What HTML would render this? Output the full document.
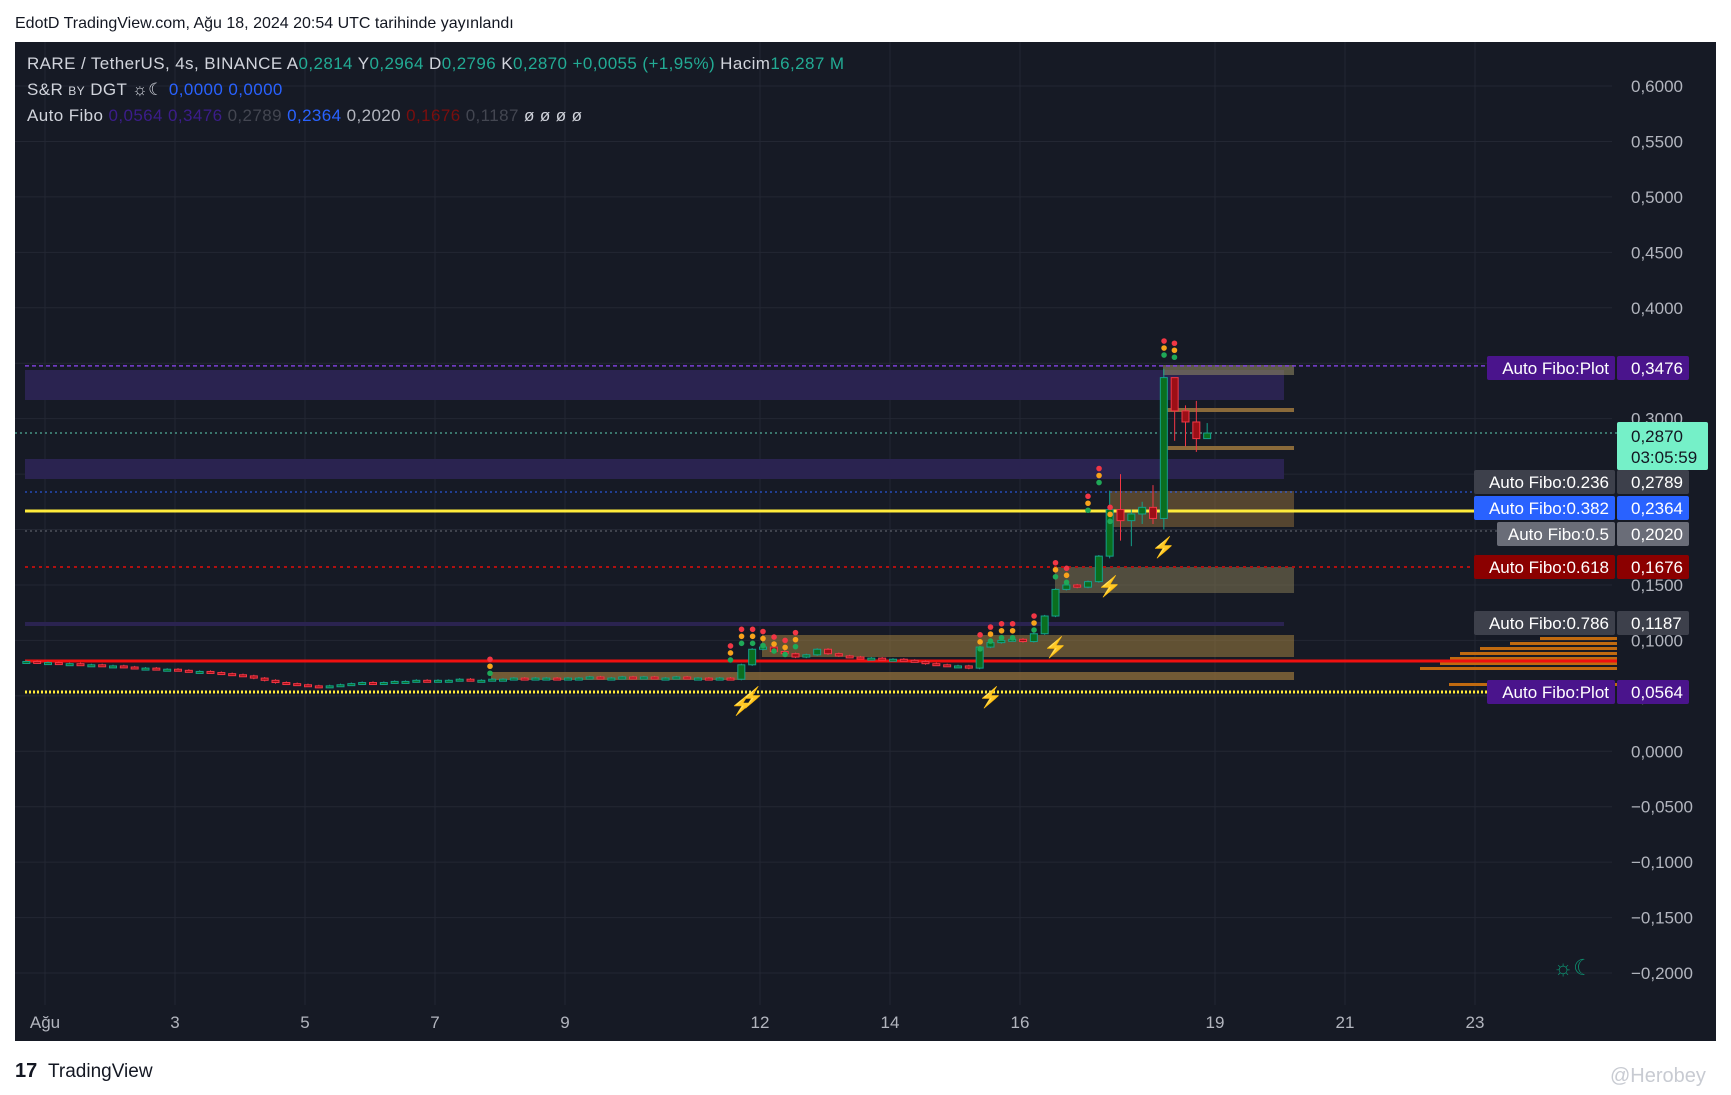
<!DOCTYPE html>
<html><head><meta charset="utf-8"><style>
body{margin:0;background:#fff;width:1731px;height:1095px;overflow:hidden;font-family:"Liberation Sans",sans-serif}
svg{display:block}
</style></head><body>
<svg id="c" width="1731" height="1095" xmlns="http://www.w3.org/2000/svg">
<text x="15" y="28" font-size="16" fill="#131722">EdotD TradingView.com, Ağu 18, 2024 20:54 UTC tarihinde yayınlandı</text>
<rect x="15" y="42" width="1701" height="999" fill="#161a25"/>
<g id="grid"></g><g id="deco"></g><g id="candles"></g><g id="labels"></g>
<g font-size="17" letter-spacing="0.4">
<text x="27" y="69" fill="#d1d4dc">RARE / TetherUS, 4s, BINANCE  <tspan fill="#d1d4dc">A</tspan><tspan fill="#22ab94">0,2814</tspan>  <tspan fill="#d1d4dc">Y</tspan><tspan fill="#22ab94">0,2964</tspan>  <tspan fill="#d1d4dc">D</tspan><tspan fill="#22ab94">0,2796</tspan>  <tspan fill="#d1d4dc">K</tspan><tspan fill="#22ab94">0,2870</tspan>  <tspan fill="#22ab94">+0,0055 (+1,95%)</tspan>  <tspan fill="#d1d4dc">Hacim</tspan><tspan fill="#22ab94">16,287 M</tspan></text>
<text x="27" y="95" fill="#d1d4dc">S&amp;R <tspan font-size="12">BY</tspan> DGT ☼☾  <tspan fill="#2962ff">0,0000  0,0000</tspan></text>
<text x="27" y="121" fill="#d1d4dc">Auto Fibo  <tspan fill="#3b1d8a">0,0564</tspan>  <tspan fill="#3b1d8a">0,3476</tspan>  <tspan fill="#434651">0,2789</tspan>  <tspan fill="#2962ff">0,2364</tspan>  <tspan fill="#b2b5be">0,2020</tspan>  <tspan fill="#7a0e0e">0,1676</tspan>  <tspan fill="#434651">0,1187</tspan>  <tspan fill="#d1d4dc">ø  ø  ø  ø</tspan></text>
</g>
<text x="1553" y="975" font-size="22" fill="#0d8f6f">☼☾</text>
<text x="15" y="1077" font-size="20" font-weight="bold" fill="#131722">17</text>
<text x="48" y="1077" font-size="19" fill="#131722">TradingView</text>
<text x="1610" y="1082" font-size="20" fill="#c8cbd2">@Herobey</text>
</svg>
<script>
const priceTicks=[0.6,0.55,0.5,0.45,0.4,0.35,0.3,0.25,0.2,0.15,0.1,0.05,0,-0.05,-0.1,-0.15,-0.2];
const dayTicks=[1,3,5,7,9,12,14,16,19,21,23];
const dayLabels=["Ağu","3","5","7","9","12","14","16","19","21","23"];
const candleStart=0.5;
const closes=[0.081,0.081,0.080,0.080,0.079,0.079,0.078,0.078,0.077,0.077,0.076,0.075,0.075,0.074,0.074,0.073,0.072,0.072,0.071,0.070,0.069,0.068,0.066,0.064,0.062,0.061,
0.060,0.059,0.058,0.059,0.060,0.061,0.062,0.061,0.062,0.063,0.063,0.064,0.063,0.064,0.064,0.065,0.064,0.064,0.065,
0.065,0.066,0.065,0.066,0.066,0.065,0.066,0.066,0.067,0.066,0.066,0.067,0.066,0.067,0.066,0.066,0.067,0.066,0.066,0.065,0.066,0.065,
0.078,0.092,0.094,0.090,0.088,0.085,0.087,0.092,0.088,0.086,0.085,0.084,0.084,0.083,0.083,0.082,0.081,0.079,0.078,0.077,0.077,0.075,
0.094,0.098,0.100,0.101,0.099,0.106,0.122,0.146,0.150,0.148,0.153,0.176,0.218,0.208,0.214,0.220,0.210,0.337,0.307,0.297,0.282,0.287];
const wickIdx=[101,102,103,104,105,106,107,108,109,110];
const wickHigh=[0.235,0.250,0.218,0.225,0.240,0.345,0.337,0.312,0.316,0.296];
const wickLow=[0.174,0.190,0.185,0.205,0.205,0.200,0.280,0.275,0.270,0.283];
const fiboValues=[0.3476,0.2789,0.2364,0.2020,0.1676,0.1187,0.0564];
const fiboNames=["Auto Fibo:Plot","Auto Fibo:0.236","Auto Fibo:0.382","Auto Fibo:0.5","Auto Fibo:0.618","Auto Fibo:0.786","Auto Fibo:Plot"];
const fiboLabelY=[368,482,508,534,567,623,692];
const fiboBg=["#4a148c","#3d404b","#2962ff","#6a6d78","#8b0000","#3d404b","#4a148c"];
const fiboLblX=[1487,1474,1474,1497,1474,1474,1487];
const lastPrice=0.287;

const NS="http://www.w3.org/2000/svg";
const yOf=v=>86+(0.6-v)/0.05*55.44;
const xOf=d=>48+(d-1)*65;
function mk(tag,attrs,parent,text){const e=document.createElementNS(NS,tag);for(const k in attrs)e.setAttribute(k,attrs[k]);if(text!=null)e.textContent=text;parent.appendChild(e);return e;}
const grid=document.getElementById('grid'),deco=document.getElementById('deco'),cg=document.getElementById('candles'),lg=document.getElementById('labels');
priceTicks.forEach(v=>{const y=yOf(v);
 const l=mk('line',{x1:15,x2:1612,y1:y,y2:y,stroke:'#232733','stroke-width':1},grid);
 
 const t=mk('text',{x:1631,y:y+6,'font-size':17,fill:'#b2b5be'},grid,(v<0?'−':'')+Math.abs(v).toFixed(4).replace('.',','));
 });
dayTicks.forEach((d,i)=>{const x=xOf(d)-3;
 const l=mk('line',{x1:x,x2:x,y1:42,y2:1005,stroke:'#232733','stroke-width':1},grid);
 
 const t=mk('text',{x:x,y:1028,'font-size':17,fill:'#b2b5be','text-anchor':'middle'},grid,dayLabels[i]);
 });
function rect(x,y,w,h,f,name,op){const r=mk('rect',{x:x,y:y,width:w,height:h,fill:f,opacity:op||1},deco);return r;}
function hline(y,x1,x2,c,w,dash,name){const l=mk('line',{x1:x1,x2:x2,y1:y,y2:y,stroke:c,'stroke-width':w,'stroke-dasharray':dash||'none'},deco);}
rect(25,370,1259,30,'#2a2350','sr-zone-top');
rect(25,459,1259,20,'#2a2350','sr-zone-mid');
rect(25,622,1259,4,'#2a2350','sr-zone-low');
rect(1163,365,131,10,'#8c8460','fibo-box',0.6);
rect(1163,408,131,4,'#8a6a3a','fibo-box');rect(1163,446,131,4,'#8a6a3a','fibo-box');
rect(1110,491,184,36,'#8a6a3a','fibo-box',0.55);
rect(1055,567,239,26,'#7a7050','fibo-box',0.6);
rect(762,635,532,22,'#a08040','fibo-box',0.55);
rect(491,672,803,8,'#8a6a3a','fibo-box',0.8);
[1540,1510,1480,1460,1450,1440,1420].forEach((x,i)=>rect(x,637+i*5,1617-x,3,'#c06a10','volume-profile-bar'));
rect(1449,683,168,3,'#c06a10','volume-profile-bar');
hline(yOf(fiboValues[0]),25,1487,'#7b3fd4',1.5,'4,3','fibo-plot-top-line');
hline(yOf(lastPrice),15,1617,'#5fd1b4',1,'2,3','last-price-line');
hline(492,25,1474,'#2962ff',1,'2,3','fibo-0236-line');
hline(511,25,1474,'#ffeb3b',3,'none','yellow-level-line');
hline(531,25,1497,'#6a6d78',1,'2,3','fibo-05-line');
hline(567,25,1474,'#b01010',2,'3,4','fibo-0618-line');
hline(661,25,1617,'#f01010',3,'none','red-level-line');
hline(692,25,1487,'#ffeb3b',3,'2,2','fibo-plot-bottom-line');
closes.forEach((c,i)=>{
 const o=i? closes[i-1]:c; const d=candleStart+i/6; const x=xOf(d);
 if(x<26) return;
 const k=wickIdx.indexOf(i);
 const hi=k>=0?wickHigh[k]:Math.max(o,c)+0.001, lo=k>=0?wickLow[k]:Math.min(o,c)-0.001;
 const up=c>=o; const col=up?'#14a08a':'#f23645';
 const w=mk('line',{x1:x,x2:x,y1:yOf(hi),y2:yOf(lo),stroke:col,'stroke-width':1},cg);
 
 const top=yOf(Math.max(o,c)),h=Math.max(2,yOf(Math.min(o,c))-top);
 const b=mk('rect',{x:x-3.5,y:top,width:7,height:h,fill:up?'#0a6e1f':'#9c0f16',stroke:col,'stroke-width':1},cg);
 
});
[[11.5,0.095],[11.67,0.11],[11.84,0.11],[12.0,0.108],[12.17,0.103],[12.34,0.1],[12.5,0.107],[15.34,0.105],[15.5,0.112],[15.67,0.115],[15.84,0.115],[16.17,0.122],[16.5,0.17],[16.67,0.165],[17.0,0.23],[17.17,0.255],[17.34,0.22],[18.17,0.37],[18.33,0.368],[7.8,0.083]].forEach(p=>{
 const x=xOf(p[0]),y=yOf(p[1]);
 ['#f23645','#f7a21b','#1fa857'].forEach((f,j)=>{const e=mk('circle',{cx:x,cy:y+j*7,r:2.8,fill:f},cg);});
});
[[11.6,0.043],[11.75,0.05],[15.42,0.05],[16.42,0.095],[17.25,0.15],[18.08,0.185]].forEach(p=>{
 const t=mk('text',{x:xOf(p[0])-7,y:yOf(p[1])+8,'font-size':20,fill:'#f57c1f'},cg,'⚡');
 });
fiboValues.forEach((v,i)=>{const y=fiboLabelY[i];
 const r1=mk('rect',{x:fiboLblX[i],y:y-12,width:1615-fiboLblX[i],height:24,fill:fiboBg[i],rx:2},lg);
 
 const t1=mk('text',{x:1609,y:y+6,'font-size':17,fill:'#fff','text-anchor':'end'},lg,fiboNames[i]);
 
 const r2=mk('rect',{x:1617,y:y-12,width:72,height:24,fill:fiboBg[i],rx:2},lg);
 
 const t2=mk('text',{x:1631,y:y+6,'font-size':17,fill:'#fff'},lg,v.toFixed(4).replace('.',','));
 });
const pb=mk('rect',{x:1617,y:422,width:91,height:48,fill:'#75f0c8',rx:2},lg);

const pt=mk('text',{x:1631,y:442,'font-size':17,fill:'#131722'},lg,lastPrice.toFixed(4).replace('.',','));

const ct=mk('text',{x:1631,y:463,'font-size':17,fill:'#131722'},lg,'03:05:59');

</script>
</body></html>
